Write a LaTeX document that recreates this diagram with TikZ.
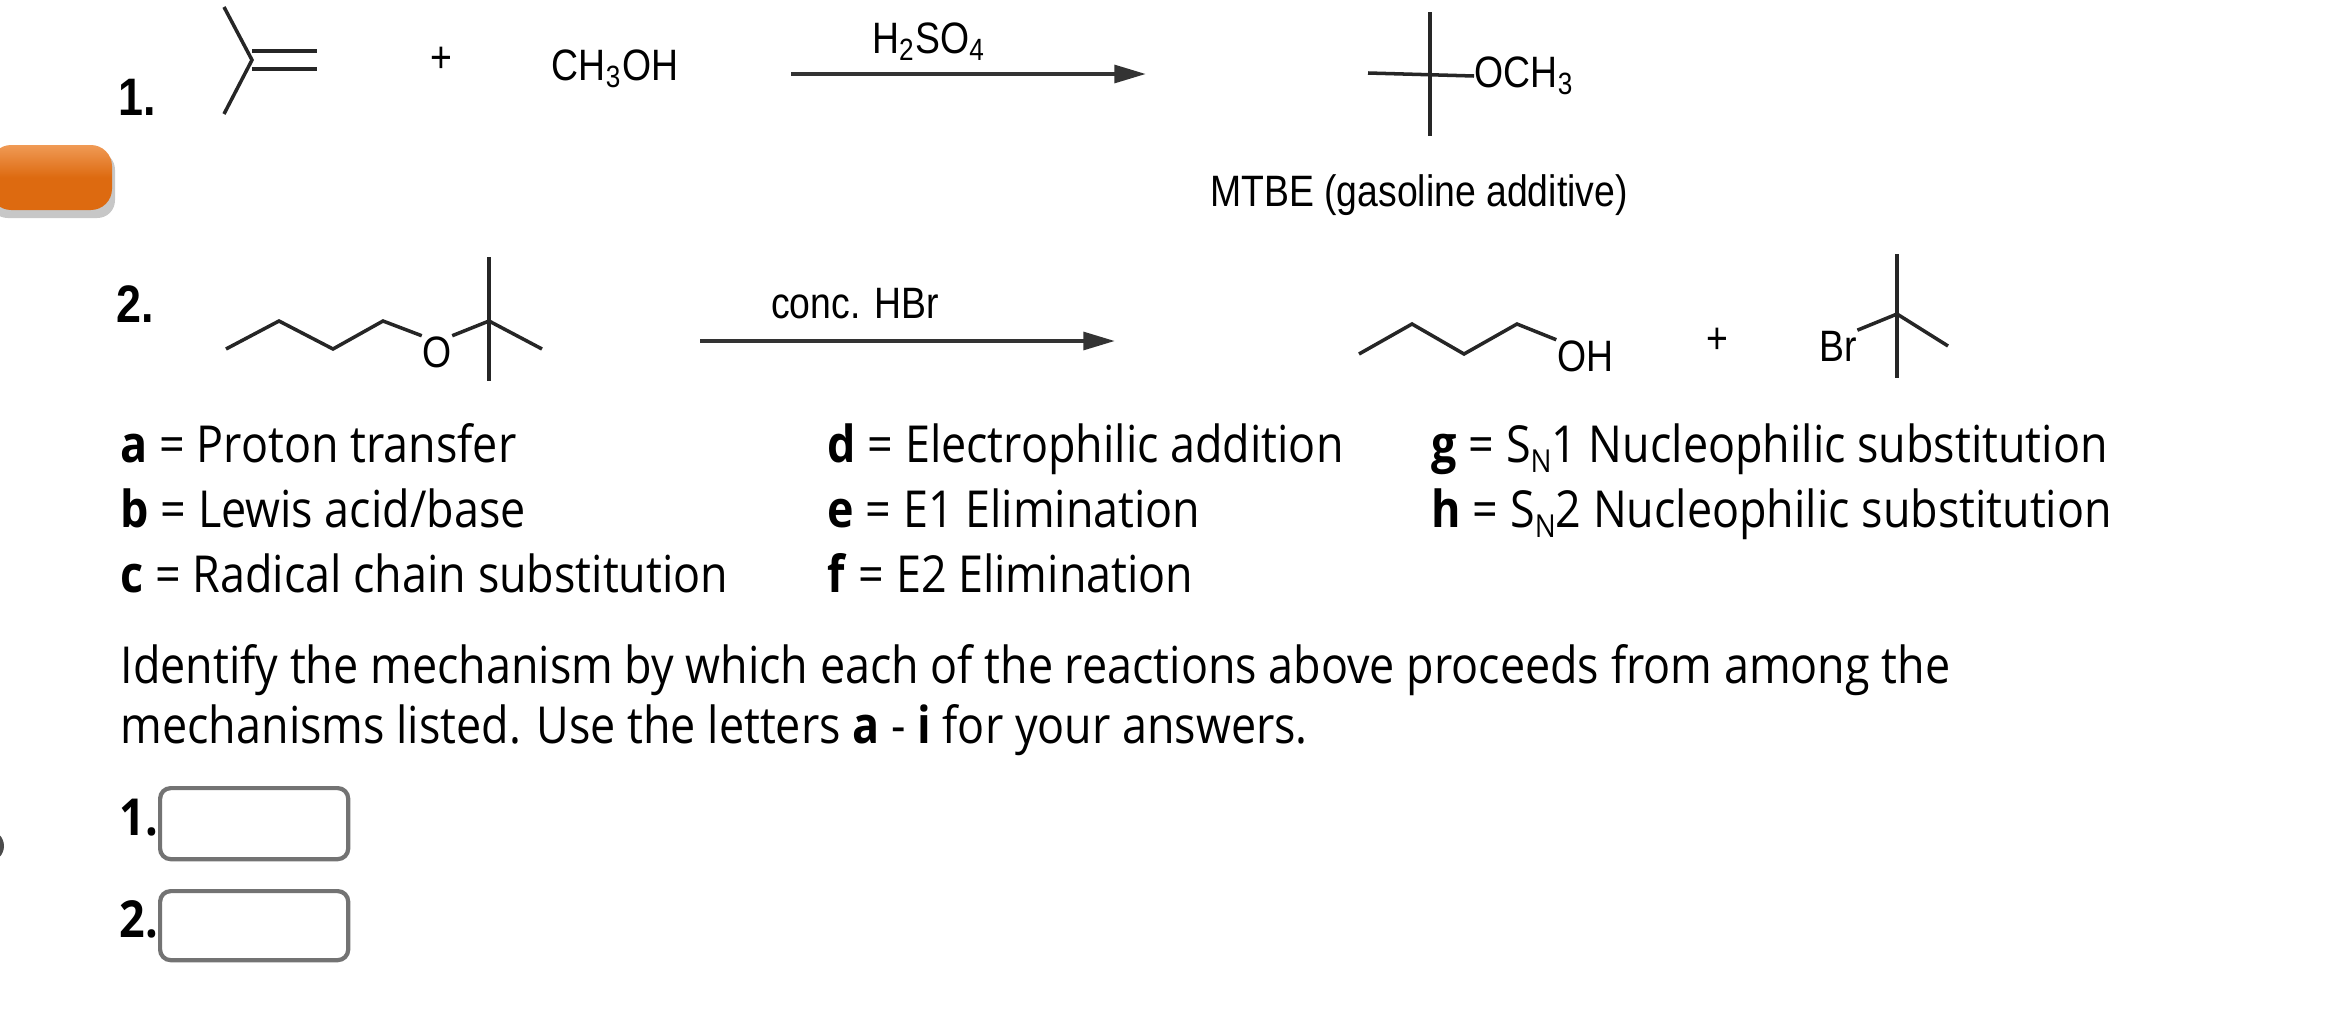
\documentclass[tikz,border=0pt]{standalone}
\usepackage{fontspec}
\setmainfont{Open Sans}[FakeStretch=0.88]
\newfontfamily\chem{Liberation Sans}[FakeStretch=0.85]
\usetikzlibrary{arrows.meta}
\definecolor{btnA}{HTML}{F09A55}
\definecolor{btnB}{HTML}{DD6A10}
\tikzset{
  bond/.style={line width=1pt,black!85},
  rxarrow/.style={line width=1.2pt,black!80,-{Triangle[length=9pt,width=5pt]}},
  chemtxt/.style={font=\chem\fontsize{12.5}{12.5}\selectfont,inner sep=0pt},
  numlbl/.style={font=\chem\bfseries\fontsize{15}{15}\selectfont,inner sep=0pt},
  body/.style={font=\fontsize{14.5}{17}\selectfont,anchor=base west,inner sep=0pt},
  ansbox/.style={draw=black!55,line width=1.2pt,rounded corners=3pt}
}
\begin{document}
\begin{tikzpicture}[x=0.01cm,y=-0.01cm]
\useasboundingbox (0,0) rectangle (2331,1021);
% button
\fill[black!22,rounded corners=5pt] (-10,152) rectangle (115,218);
\shade[top color=btnA,bottom color=btnB,middle color=btnB,rounded corners=6pt] (-10,145) rectangle (112,210);
\fill[black!70] (-12,846) circle (16);
% reaction 1
\node[numlbl] (n1) at (137,97) {1.};
\coordinate (i1) at (224,7); \coordinate (ic) at (252,60); \coordinate (i2) at (224,114);
\coordinate (id) at (317,60);
\draw[bond] (i1) -- (ic) -- (i2);
\draw[bond] ([yshift=-2.5]ic) -- ([yshift=-2.5]id);
\draw[bond] ([yshift=2.5]ic) -- ([yshift=2.5]id);
\node[chemtxt] (p1) at (441,60) {+};
\node[chemtxt] (meoh) at (615,69) {CH\textsubscript{3}OH};
\coordinate (a1s) at (791,74); \coordinate (a1e) at (1146,74);
\draw[rxarrow] (a1s) -- (a1e);
\node[chemtxt] (h2so4) at (929,42) {H\textsubscript{2}SO\textsubscript{4}};
\draw[bond] (1430,12) -- (1430,136);
\node[chemtxt,anchor=west] (och3) at (1474,76) {OCH\textsubscript{3}};
\draw[bond] (1368,73) -- (och3.west);
\node[chemtxt] (mtbe) at (1419,195) {MTBE (gasoline additive)};
% reaction 2
\node[numlbl] (n2) at (135,304) {2.};
\node[chemtxt] (o1) at (437,352) {O};
\draw[bond] (226,349) -- (279,321) -- (333,349) -- (383,321) -- (o1.north west);
\draw[bond] (o1.north east) -- (489,321) -- (542,349);
\draw[bond] (489,257) -- (489,381);
\coordinate (a2s) at (700,341); \coordinate (a2e) at (1115,341);
\draw[rxarrow] (a2s) -- (a2e);
\node[chemtxt] (hbr) at (855,304) {conc. HBr};
\node[chemtxt] (oh) at (1585,356) {OH};
\draw[bond] (1359,354) -- (1412,324) -- (1464,354) -- (1517,324) -- (oh.north west);
\node[chemtxt] (p2) at (1717,341) {+};
\node[chemtxt] (br) at (1838,346) {Br};
\draw[bond] (br.north east) -- (1897,314) -- (1948,346);
\draw[bond] (1897,254) -- (1897,378);
% legend
\node[body] (la) at (120,462) {\textbf{a} = Proton transfer};
\node[body] (lb) at (120,527) {\textbf{b} = Lewis acid/base};
\node[body] (lc) at (120,592) {\textbf{c} = Radical chain substitution};
\node[body] (ld) at (827,462) {\textbf{d} = Electrophilic addition};
\node[body] (le) at (827,527) {\textbf{e} = E1 Elimination};
\node[body] (lf) at (827,592) {\textbf{f} = E2 Elimination};
\node[body] (lg) at (1431,462) {\textbf{g} = S\raisebox{-0.4ex}{\small N}1 Nucleophilic substitution};
\node[body] (lh) at (1431,527) {\textbf{h} = S\raisebox{-0.4ex}{\small N}2 Nucleophilic substitution};
\node[body] (q1) at (120,683) {Identify the mechanism by which each of the reactions above proceeds from among the};
\node[body] (q2) at (120,743) {mechanisms listed. Use the letters \textbf{a} - \textbf{i} for your answers.};
\node[body,font=\bfseries\fontsize{14.5}{17}\selectfont] (k1) at (119,835) {1.};
\node[ansbox,minimum width=1.88cm,minimum height=0.71cm,anchor=north west] (b1) at (158,786) {};
\node[body,font=\bfseries\fontsize{14.5}{17}\selectfont] (k2) at (119,937) {2.};
\node[ansbox,minimum width=1.88cm,minimum height=0.69cm,anchor=north west] (b2) at (158,889) {};
\end{tikzpicture}
\end{document}
